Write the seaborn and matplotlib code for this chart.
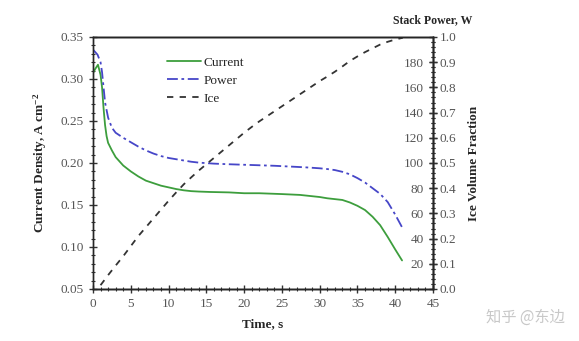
import matplotlib
matplotlib.use("Agg")
import matplotlib.pyplot as plt
from matplotlib.ticker import MultipleLocator
import seaborn as sns
import pandas as pd

# ---- data ----
cur_t = [0, 0.3, 0.66, 1.0, 1.2, 1.4, 1.6, 1.8, 2.0, 2.5, 3.0, 3.5, 4, 5, 6, 7, 8, 9, 10, 11, 12,
         13, 14, 15.5, 18, 20, 22, 25, 27.4, 30, 31, 32, 33, 34, 35, 36, 37, 38, 39, 40, 40.9]
cur_v = [0.307, 0.312, 0.317, 0.305, 0.29, 0.265, 0.245, 0.232, 0.224, 0.215, 0.207, 0.202, 0.197,
         0.19, 0.184, 0.179, 0.176, 0.173, 0.171, 0.169, 0.1675, 0.1665, 0.166, 0.1655, 0.165,
         0.164, 0.164, 0.163, 0.162, 0.1595, 0.158, 0.157, 0.156, 0.153, 0.149, 0.144, 0.136,
         0.126, 0.112, 0.097, 0.084]

pow_t = [0, 0.3, 0.6, 1.0, 1.2, 1.4, 1.6, 2.0, 2.5, 3, 4, 5, 6, 7, 8, 9, 10, 11, 12, 13, 14, 16,
         18, 20, 22, 24, 26, 28, 30, 31, 32, 33, 34, 35, 36, 37, 38, 39, 40, 40.9]
pow_v = [190, 188, 186, 180, 172, 160, 148, 136, 128, 124, 120, 116.5, 113, 110, 107.5, 105.5, 104,
         103, 102, 101, 100.3, 99.5, 99, 98.6, 98.2, 97.8, 97.2, 96.6, 95.8, 95.2, 94.4, 93, 91,
         88, 84.5, 80, 75.5, 69, 59, 49]

ice_t = [1, 1.5, 2, 3, 4, 5, 6, 7, 8, 9, 10, 11, 12, 13, 14, 15, 16, 17, 18, 19, 20, 21, 22, 23,
         24, 25, 26, 27, 28, 29, 30, 31, 32, 33, 34, 35, 36, 37, 38, 39, 40, 41]
ice_v = [0.015, 0.035, 0.055, 0.093, 0.13, 0.17, 0.21, 0.245, 0.28, 0.315, 0.35, 0.383, 0.415,
         0.443, 0.47, 0.495, 0.52, 0.545, 0.57, 0.595, 0.62, 0.643, 0.665, 0.685, 0.705, 0.725,
         0.745, 0.765, 0.785, 0.805, 0.825, 0.843, 0.862, 0.883, 0.905, 0.923, 0.94, 0.955, 0.97,
         0.981, 0.99, 0.997]

x_ticks = [0, 5, 10, 15, 20, 25, 30, 35, 40, 45]
cur_ticks = [0.05, 0.10, 0.15, 0.20, 0.25, 0.30, 0.35]
pow_ticks = [20, 40, 60, 80, 100, 120, 140, 160, 180]
ice_ticks = [0.0, 0.1, 0.2, 0.3, 0.4, 0.5, 0.6, 0.7, 0.8, 0.9, 1.0]

df_cur = pd.DataFrame({"t": cur_t, "v": cur_v})
df_pow = pd.DataFrame({"t": pow_t, "v": pow_v})
df_ice = pd.DataFrame({"t": ice_t, "v": ice_v})

sns.set_theme(style="ticks")
plt.rcParams["font.family"] = ["Liberation Serif", "DejaVu Serif"]
plt.rcParams["axes.linewidth"] = 1.0
plt.rcParams["mathtext.fontset"] = "custom"
plt.rcParams["mathtext.rm"] = "Liberation Serif"
plt.rcParams["mathtext.bf"] = "Liberation Serif:bold"
plt.rcParams["mathtext.it"] = "Liberation Serif:italic"

TICK_COL = "#555555"
fs = 9.5

fig = plt.figure(figsize=(5.79, 3.41), dpi=100)
ax = fig.add_axes([0.1606, 0.1525, 0.5873, 0.739])

sns.lineplot(data=df_cur, x="t", y="v", ax=ax, color="#3d9e3d", lw=1.3, legend=False, label="Current")
ax.set_xlim(0, 45)
ax.set_ylim(0.05, 0.35)
ax.set_xticks(x_ticks)
ax.set_yticks(cur_ticks)
ax.set_yticklabels([f"{v:.2f}" for v in cur_ticks])
ax.xaxis.set_minor_locator(MultipleLocator(1))
ax.yaxis.set_minor_locator(MultipleLocator(0.01))
ax.tick_params(which="both", direction="inout", colors="#333333", labelcolor=TICK_COL, labelsize=fs)
ax.tick_params(which="major", length=6, width=1)
ax.tick_params(which="minor", length=3, width=0.8)
ax.tick_params(axis="x", which="both", top=False)
ax.set_xlabel("Time, s", fontsize=fs, fontweight="bold", labelpad=6)
ax.set_ylabel("Current Density, A cm$^{\\mathbf{-2}}$", fontsize=fs, fontweight="bold", labelpad=8)

# Power axis: labels on the inside of the right spine
ax_p = ax.twinx()
sns.lineplot(data=df_pow, x="t", y="v", ax=ax_p, color="#4646c8", lw=1.3,
             linestyle=(0, (6, 2, 1.5, 2)), legend=False, label="Power")
ax_p.set_ylim(0, 200)
ax_p.yaxis.tick_left()
ax_p.spines["left"].set_position(("axes", 1.0))
ax_p.spines["left"].set_visible(True)
ax_p.set_yticks(pow_ticks)
ax_p.yaxis.set_minor_locator(MultipleLocator(4))
ax_p.tick_params(axis="y", which="both", direction="inout", colors="#333333", labelcolor=TICK_COL,
                 labelsize=fs)
ax_p.tick_params(axis="y", which="major", length=6, width=1)
ax_p.tick_params(axis="y", which="minor", length=3, width=0.8)
ax_p.set_ylabel("")
ax_p.text(1.0, 1.045, "Stack Power, W", transform=ax_p.transAxes, ha="center", va="bottom",
          fontsize=8.5, fontweight="bold")

# Ice axis: right side
ax_i = ax.twinx()
sns.lineplot(data=df_ice, x="t", y="v", ax=ax_i, color="#333333", lw=1.3,
             linestyle=(0, (3.5, 3.5)), legend=False, label="Ice")
ax_i.set_ylim(0, 1.0)
ax_i.set_yticks(ice_ticks)
ax_i.set_yticklabels([f"{v:.1f}" for v in ice_ticks])
ax_i.yaxis.set_minor_locator(MultipleLocator(0.02))
ax_i.tick_params(axis="y", which="both", direction="inout", colors="#333333", labelcolor=TICK_COL,
                 labelsize=fs, pad=2)
ax_i.tick_params(axis="y", which="major", length=6, width=1)
ax_i.tick_params(axis="y", which="minor", length=3, width=0.8)
ax_i.set_ylabel("Ice Volume Fraction", fontsize=fs, fontweight="bold", labelpad=8)
ax_i.set_xlim(0, 45)

handles = [ax.lines[0], ax_p.lines[0], ax_i.lines[0]]
ax_i.legend(handles, ["Current", "Power", "Ice"], loc="upper left",
            bbox_to_anchor=(0.19, 0.96), frameon=False, fontsize=fs,
            handlelength=2.6, handletextpad=0.2, labelspacing=0.45, borderpad=0.2)

fig.text(0.975, 0.07, "知乎 @东边", ha="right", va="center", fontsize=11, color="#c8c8c8",
         family=["Noto Sans CJK SC", "DejaVu Sans"])

fig.savefig("out.png", dpi=100, facecolor="white")
